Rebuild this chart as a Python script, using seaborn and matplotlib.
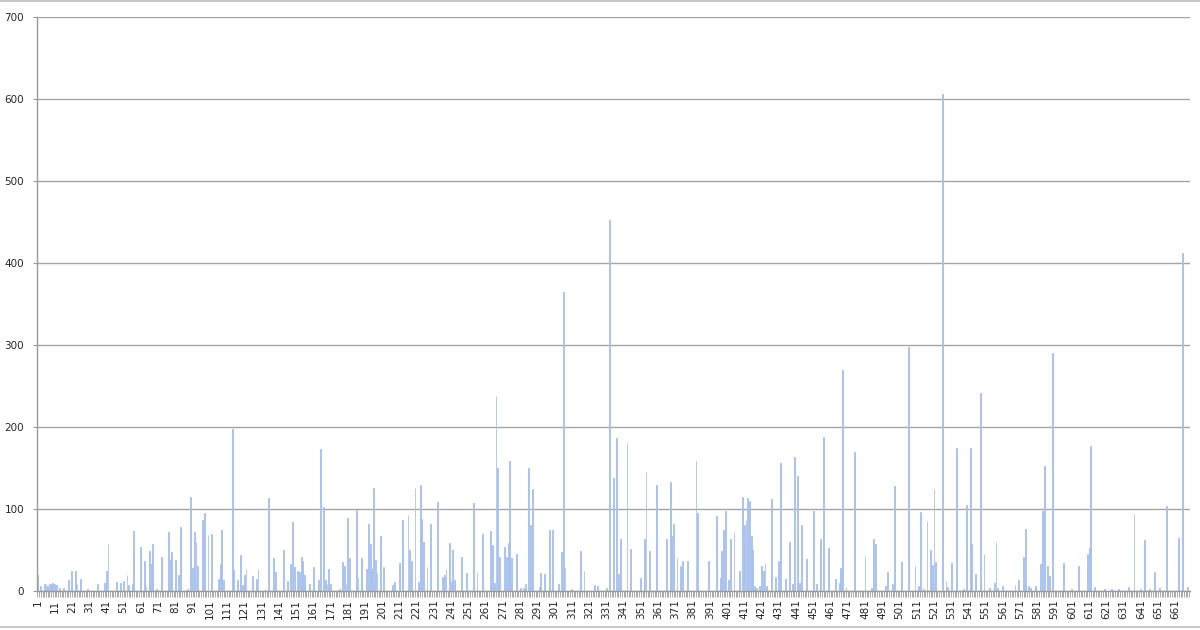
import numpy as np
import pandas as pd
import matplotlib
matplotlib.use("Agg")
import matplotlib.pyplot as plt
import seaborn as sns
from matplotlib.lines import Line2D

# values: bar number -> height (bars not listed are ~0)
n_bars = 669
bar_ids = [
    1, 3, 5, 6, 7, 8, 9, 10, 11, 12, 14, 16, 19, 21, 23, 24, 26, 30, 36, 40, 41, 42, 47, 49, 51, 53, 54, 56, 57,
    61, 63, 64, 66, 67, 68, 70,
    73, 77, 78, 79, 81, 83, 84, 88, 90, 91, 92, 93, 94, 97, 98, 100, 102, 106, 107, 108, 109, 114, 115, 117,
    119, 120, 121, 122, 126, 128, 129, 133, 135, 138, 139, 144,
    146, 148, 149, 150, 152, 153, 154, 155, 156, 159, 161, 164, 165, 167, 168, 169, 170, 171, 176, 178, 179,
    180, 181, 182, 186, 187, 189, 192, 193, 194, 195, 196, 197, 198, 200, 202, 207, 208, 211, 213,
    216, 217, 218, 220, 222, 223, 224, 225, 227, 229, 233, 236, 237, 238, 240, 241, 242, 243, 247, 250, 254,
    256, 259, 264, 265, 266, 267, 268, 269, 272, 273, 274, 275, 276, 279, 281, 283, 284, 286, 287, 288,
    292, 293, 295, 298, 300, 303, 305, 306, 307, 311, 316, 318, 324, 326, 331, 333, 335, 337, 338, 339, 343,
    345, 351, 353, 354, 356, 360,
    366, 368, 369, 370, 372, 374, 375, 378, 383, 384, 390, 395, 397, 398, 399, 400, 402, 403, 405, 408, 410,
    411, 412, 413, 414, 415, 416, 417, 418, 420, 421, 422, 423, 424, 427, 429, 431, 432,
    435, 437, 439, 440, 442, 443, 444, 447, 451, 453, 455, 457, 460, 464, 466, 467, 468, 470, 475, 481, 485,
    486, 487, 493, 494, 497, 498, 502, 506,
    510, 512, 513, 515, 517, 519, 520, 521, 522, 526, 528, 529, 531, 534, 538, 540, 542, 543, 545, 548, 550,
    553, 556, 557, 558, 561, 568, 570, 573, 574, 576, 577,
    580, 583, 584, 585, 587, 588, 590, 596, 601, 605, 610, 611, 612, 614, 620, 624, 628, 634, 637, 641, 643,
    646, 649, 652, 656, 663, 665, 668,
]
bar_values = [
    20, 6, 8, 8, 6, 9, 9, 10, 8, 7, 4, 4, 14, 24, 24, 8, 15, 3, 8, 10, 24, 57, 11, 10, 12, 20, 7, 8, 73,
    54, 37, 6, 49, 33, 57, 3,
    42, 72, 38, 47, 38, 20, 78, 3, 115, 28, 72, 60, 30, 86, 95, 68, 70, 15, 33, 75, 13, 198, 26, 14,
    44, 7, 20, 27, 18, 15, 27, 3, 114, 40, 23, 50,
    12, 33, 84, 29, 24, 23, 42, 37, 19, 8, 29, 13, 173, 102, 14, 9, 27, 8, 3, 35, 31,
    8, 89, 40, 99, 17, 40, 27, 82, 57, 27, 126, 38, 22, 67, 29, 7, 11, 34, 86,
    93, 50, 36, 126, 11, 129, 88, 60, 29, 82, 108, 17, 20, 27, 58, 11, 50, 13, 42, 22, 107,
    23, 69, 73, 56, 10, 238, 150, 42, 54, 42, 58, 158, 40, 45, 4, 4, 8, 150, 80, 124,
    5, 22, 21, 75, 75, 8, 47, 365, 28, 3, 49, 24, 7, 6, 4, 453, 138, 186, 21, 64, 181,
    51, 16, 64, 145, 49, 129,
    63, 133, 67, 82, 40, 31, 37, 36, 158, 95, 36, 91, 16, 49, 75, 97, 14, 63, 72, 25, 115,
    80, 86, 114, 110, 67, 50, 6, 4, 6, 31, 24, 34, 6, 112, 17, 36, 156,
    15, 60, 8, 164, 140, 10, 80, 39, 97, 9, 63, 188, 53, 15, 10, 28, 270, 5, 170, 43, 4,
    64, 57, 6, 23, 9, 128, 35, 298,
    31, 6, 96, 3, 85, 50, 32, 125, 35, 606, 12, 5, 34, 175, 3, 105, 174, 57, 21, 242, 45,
    4, 10, 60, 4, 6, 7, 14, 42, 76, 6, 4,
    6, 33, 97, 152, 31, 18, 290, 34, 3, 30, 45, 53, 177, 5, 3, 3, 3, 5, 94, 3, 62,
    3, 23, 4, 104, 65, 412, 5,
]
tick_step = 10

heights = pd.Series(0.0, index=range(1, n_bars + 1))
heights.loc[bar_ids] = bar_values
df = pd.DataFrame({"bar": heights.index, "value": heights.values})

sns.set_style("white")
plt.rcParams["font.family"] = ["DejaVu Sans"]

fig = plt.figure(figsize=(12, 6.3), dpi=100)
ax = fig.add_axes([36.5 / 1200, 1 - 591 / 630, 1153.5 / 1200, 574 / 630])

sns.barplot(data=df, x="bar", y="value", color="#8eaee8", width=0.5,
            linewidth=0.6, edgecolor="#a9c1ee", saturation=1, ax=ax)

ax.set_ylim(0, 700)
ax.set_xlim(-0.5, n_bars - 0.5)
ax.set_yticks(range(0, 701, 100))
ax.yaxis.grid(True, color="#a4a4a4", linewidth=1)
ax.set_axisbelow(True)

ax.set_xticks(range(0, n_bars, tick_step))
ax.set_xticklabels([str(i + 1) for i in range(0, n_bars, tick_step)], rotation=90)
ax.set_xticks(range(n_bars), minor=True)
ax.tick_params(axis="x", which="both", length=4, width=0.6, color="#9a9a9a",
               labelsize=7.5, pad=2, bottom=True)
ax.tick_params(axis="y", length=3, width=0.8, color="#9a9a9a", labelsize=7.5, pad=6, left=True)

ax.set_xlabel("")
ax.set_ylabel("")
for side in ["top", "right"]:
    ax.spines[side].set_visible(False)
for side in ["left", "bottom"]:
    ax.spines[side].set_color("#9a9a9a")
    ax.spines[side].set_linewidth(1)

# thin frame lines at top and bottom of the image
fig.add_artist(Line2D([0, 1], [0.998, 0.998], color="#c8c8c8", linewidth=1.5, transform=fig.transFigure))
fig.add_artist(Line2D([0, 1], [0.004, 0.004], color="#c8c8c8", linewidth=1.5, transform=fig.transFigure))

fig.savefig("out.png", dpi=100)
